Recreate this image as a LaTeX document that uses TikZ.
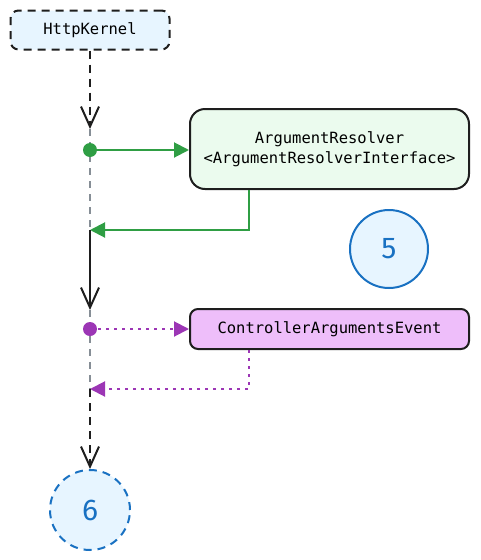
\documentclass[tikz,border=0pt]{standalone}
\usepackage{fontspec}
\setmonofont{DejaVu Sans Mono}
\setsansfont{Fira Sans}
\usepackage{xcolor}
\usetikzlibrary{arrows.meta, positioning}

\definecolor{kernelfill}{HTML}{E7F5FF}
\definecolor{resolverfill}{HTML}{EBFBEE}
\definecolor{eventfill}{HTML}{EEBEFA}
\definecolor{stepblue}{HTML}{1971C2}
\definecolor{flowgreen}{HTML}{2F9E44}
\definecolor{flowpurple}{HTML}{9C36B5}
\definecolor{lifegrey}{HTML}{868E96}
\definecolor{inkblack}{HTML}{1E1E1E}

\begin{document}
\begin{tikzpicture}[x=1pt,y=-1pt,line width=2pt,
    box/.style={draw=inkblack,inner sep=0pt,font=\ttfamily\fontsize{15.5}{19.5}\selectfont,align=center},
    stepcircle/.style={shape=circle,draw=stepblue,fill=kernelfill,minimum size=78pt,inner sep=0pt,
      text=stepblue,font=\sffamily\fontsize{30}{30}\selectfont},
    open/.style={-{Straight Barb[length=20pt,width=18pt,line width=2pt]}},
    solidtip/.style={-{Triangle[length=15pt,width=15pt]}},
    life/.style={draw=lifegrey,line width=1.6pt,dash pattern=on 7pt off 6pt}]
    \useasboundingbox (0,0) rectangle (480,560);

    \node (kernel) at (90,30) [box,fill=kernelfill,dash pattern=on 8pt off 6pt,rounded corners=8pt,
      minimum width=159pt,minimum height=39pt] {HttpKernel}; %
    \node (resolver) at (329.5,149) [box,fill=resolverfill,rounded corners=15pt,
      minimum width=279pt,minimum height=80pt] {ArgumentResolver\\<ArgumentResolverInterface>}; %
    \node (event) at (329.5,329) [box,fill=eventfill,rounded corners=8pt,
      minimum width=279pt,minimum height=40pt] {ControllerArgumentsEvent}; %
    \node (step5) at (389,249) [stepcircle] {5}; %
    \node (step6) at (90,510) [stepcircle,minimum size=80pt,dash pattern=on 8pt off 6pt] {6}; %

    \coordinate (tip1) at (90,129);
    \coordinate (dot1) at (90,150);
    \coordinate (join1) at (90,230);
    \coordinate (tip2) at (90,310);
    \coordinate (dot2) at (90,329);
    \coordinate (join2) at (90,389);

    %%%% lifeline
    \draw [life] (tip1) -- (join1); %
    \draw [life] (tip2) -- (join2); %

    %%%% arcs
    \draw [color=inkblack,open,dash pattern=on 8pt off 6pt] (kernel) -- (tip1); %
    \draw [color=flowgreen,solidtip] (dot1) -- (dot1 -| resolver.west); %
    \draw [color=flowgreen,solidtip] ([xshift=60pt]resolver.south west) |- (join1); %
    \draw [color=inkblack,open] (join1) -- (tip2); %
    \draw [color=flowpurple,solidtip,dash pattern=on 3pt off 5pt] (dot2) -- (dot2 -| event.west); %
    \draw [color=flowpurple,solidtip,dash pattern=on 3pt off 5pt] ([xshift=60pt]event.south west) |- (join2); %
    \draw [color=inkblack,open,dash pattern=on 8pt off 6pt] (join2) -- (step6); %

    %%%% dots
    \fill [flowgreen] (dot1) circle (7pt); %
    \fill [flowpurple] (dot2) circle (7pt); %
  \end{tikzpicture}
\end{document}
